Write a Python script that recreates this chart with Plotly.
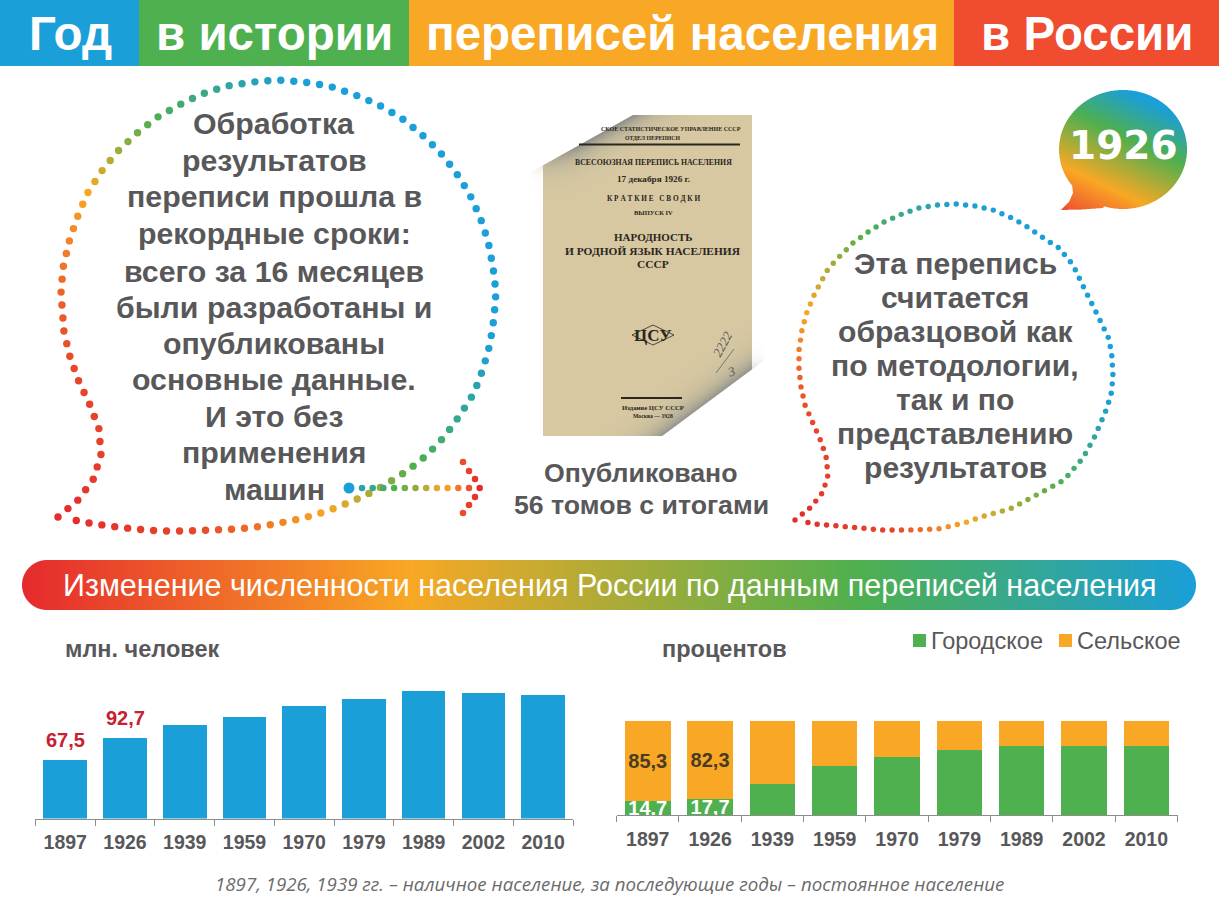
"""Инфографика: 1926 год в истории переписей населения России."""
import numpy as np
import plotly.graph_objects as go

W, H = 1219, 911

# chart data
years = ["1897", "1926", "1939", "1959", "1970", "1979", "1989", "2002", "2010"]
population = [67.5, 92.7, 108.4, 117.5, 129.9, 137.6, 147.0, 145.2, 142.9]
population_labels = ["67,5", "92,7", "", "", "", "", "", "", ""]
urban = [14.7, 17.7, 33.4, 52.0, 62.0, 69.0, 73.0, 73.0, 73.5]
rural = [85.3, 82.3, 66.6, 48.0, 38.0, 31.0, 27.0, 27.0, 26.5]
urban_labels = ["14,7", "17,7", "", "", "", "", "", "", ""]
rural_labels = ["85,3", "82,3", "", "", "", "", "", "", ""]

BLUE, GREEN, ORANGE, RED = "#1A9FD9", "#4FB04F", "#F9A825", "#EF4C30"
DARK_RED = "#E52B2B"
TEXT = "#58585A"
FONT = "Liberation Sans"

# header blocks: left, right, colour, word, word centre
header = [
    (0, 139, BLUE, "Год", 70),
    (139, 409, GREEN, "в истории", 274),
    (409, 954, ORANGE, "переписей населения", 682),
    (954, 1219, RED, "в России", 1087),
]

left_lines = [
    ("Обработка", 123), ("результатов", 160), ("переписи прошла в", 196),
    ("рекордные сроки:", 233), ("всего за 16 месяцев", 271),
    ("были разработаны и", 307), ("опубликованы", 343),
    ("основные данные.", 379), ("И это без", 416), ("применения", 452),
    ("машин", 489),
]
right_lines = [
    ("Эта перепись", 263), ("считается", 297), ("образцовой как", 331),
    ("по методологии,", 365), ("так и по", 399), ("представлению", 433),
    ("результатов", 467),
]

# outlines of the dotted speech bubbles, in page pixels
left_outline = [
    (58, 517), (78, 500), (93, 480), (101, 455), (99, 429), (90, 405),
    (79, 382), (70, 357), (64, 332), (61, 293), (63, 268), (69, 242),
    (77, 218), (87, 194), (101, 172), (117, 152), (136, 134), (156, 118),
    (179, 105), (202, 94), (227, 86), (253, 82), (278, 80), (304, 82),
    (329, 86), (353, 94), (377, 104), (400, 117), (420, 133), (439, 151),
    (455, 171), (469, 193), (480, 217), (488, 241), (493, 267), (496, 292),
    (494, 318), (490, 344), (483, 369), (474, 393), (460, 415), (445, 436),
    (427, 455), (407, 471), (385, 485), (362, 497), (338, 507), (315, 515),
    (290, 521), (264, 526), (238, 529), (212, 530), (186, 531), (160, 531),
    (135, 529), (109, 526), (83, 522), (70, 519),
]
right_outline = [
    (795, 520), (811, 507), (823, 492), (828, 475), (826, 456), (820, 439),
    (812, 421), (805, 405), (801, 387), (799, 369), (799, 350), (802, 330),
    (807, 312), (815, 293), (828, 269), (840, 256), (853, 243), (868, 232),
    (884, 222), (902, 214), (919, 208), (937, 205), (956, 204), (975, 206),
    (993, 210), (1012, 218), (1026, 226), (1042, 237), (1059, 248), (1073, 265),
    (1084, 288), (1098, 316), (1109, 339), (1112, 357), (1113, 377), (1111, 395),
    (1105, 413), (1094, 438), (1083, 458), (1064, 480), (1042, 492), (1010, 509),
    (984, 516), (964, 523), (938, 529), (908, 530), (881, 530), (861, 528),
    (838, 526), (815, 524), (801, 521),
]

bubble_stops = [(-264, DARK_RED), (-165, "#E8452B"), (-45, ORANGE), (50, GREEN), (190, BLUE), (300, BLUE)]
right_stops = [(324, DARK_RED), (395, "#E8452B"), (458, ORANGE), (555, GREEN), (650, BLUE), (760, BLUE)]
arrow_stops = [(348, BLUE), (395, GREEN), (445, ORANGE), (480, DARK_RED)]
blob_stops = [(0, RED), (40, ORANGE), (93, GREEN), (135, BLUE), (170, BLUE)]
band_stops = [(22, "#E62A2E"), (410, ORANGE), (860, GREEN), (1196, BLUE)]


def rgb(hex_color):
    return [int(hex_color[i:i + 2], 16) for i in (1, 3, 5)]


def ramp(t, stops):
    """Colour ramp as a float array, last axis is RGB."""
    pos = [s[0] for s in stops]
    cols = np.array([rgb(s[1]) for s in stops], dtype=float)
    return np.stack([np.interp(t, pos, cols[:, i]) for i in range(3)], axis=-1)


def to_hex(colors):
    return ["#%02x%02x%02x" % tuple(int(v) for v in c) for c in colors]


def dots_along(points, step):
    pts = np.array(points, dtype=float)
    length = np.r_[0, np.cumsum(np.hypot(*np.diff(pts, axis=0).T))]
    s = np.arange(0, length[-1] + 1, step)
    return np.interp(s, length, pts[:, 0]), np.interp(s, length, pts[:, 1])


def image_trace(rgb_array, alpha, left, top):
    z = np.dstack([np.clip(rgb_array, 0, 255), np.clip(alpha, 0, 1) * 255]).astype(np.uint8)
    return go.Image(z=z.tolist(), colormodel="rgba256", x0=left + 0.5, y0=top + 0.5,
                    dx=1, dy=1, xaxis="x3", yaxis="y3", hoverinfo="skip")


def gradient_band():
    left, right, top, bottom = 22, 1196, 560, 610
    xx, yy = np.meshgrid(np.arange(left, right) + 0.5, np.arange(top, bottom) + 0.5)
    r = (bottom - top) / 2
    cy = (top + bottom) / 2
    dx = np.maximum(np.maximum(left + r - xx, xx - (right - r)), 0)
    alpha = r - np.hypot(dx, yy - cy) + 0.5
    return image_trace(ramp(xx, band_stops), alpha, left, top)


def year_blob():
    left, right, top, bottom = 1056, 1190, 87, 213
    n = 3  # supersampling
    xx, yy = np.meshgrid((np.arange((right - left) * n) + 0.5) / n + left,
                         (np.arange((bottom - top) * n) + 0.5) / n + top)
    mask = ((xx - 1123) / 64) ** 2 + ((yy - 149.5) / 59.5) ** 2 <= 1
    tail = [(1072, 184), (1073, 193), (1069, 202), (1061, 210), (1082, 209.5), (1103, 208), (1112, 195)]
    inside = np.zeros_like(mask)
    for (x1, y1), (x2, y2) in zip(tail, tail[1:] + tail[:1]):
        crossing = ((y1 > yy) != (y2 > yy)) & (xx < (x2 - x1) * (yy - y1) / (y2 - y1) + x1)
        inside ^= crossing
    mask |= inside
    alpha = mask.reshape(bottom - top, n, right - left, n).mean(axis=(1, 3))
    px, py = np.meshgrid(np.arange(left, right) + 0.5, np.arange(top, bottom) + 0.5)
    t = (px - 1061) * 0.42 + (210 - py) * 0.9
    return image_trace(ramp(t, blob_stops), alpha, left, top)


def book_cover():
    left, right, top, bottom = 526, 770, 112, 440
    xx, yy = np.meshgrid(np.arange(left, right) + 0.5, np.arange(top, bottom) + 0.5)
    # folded corners: signed distance to the two diagonals
    d1 = ((yy - 172) * 102 + (xx - 530) * 57) / np.hypot(102, 57)
    d2 = ((370 - yy) * 89 + (752 - xx) * 66) / np.hypot(89, 66)
    paper = np.array([216, 201, 163], dtype=float)
    fold = np.array([112, 122, 128], dtype=float)
    # the fold is darkest away from the cover's left edge
    top_fold = 0.8 * np.clip(0.3 + (xx - 543) / 50, 0, 1) * np.exp(-np.maximum(d1, 0) / 10)
    bottom_fold = 0.72 * np.exp(-np.maximum(d2, 0) / 10)
    shade = np.clip(top_fold + bottom_fold, 0, 1)[..., None]
    colors = paper * (1 - shade) + fold * shade
    in_rect = (xx >= 543) & (xx < 752) & (yy >= 115) & (yy < 436)
    cut = np.clip(d1, 0, 1) * np.clip(d2, 0, 1)
    # faint shadow sticking out past the cover edges
    wisp = 0.35 * (np.exp(-np.maximum(d1, 0) / 7) * np.clip(1 - (543 - xx) / 14, 0, 1) * (xx < 543)
                   + np.exp(-np.maximum(d2, 0) / 7) * np.clip(1 - (xx - 752) / 14, 0, 1) * (xx >= 752))
    alpha = np.where(in_rect, cut, wisp * cut)
    return image_trace(colors, alpha, left, top)


fig = go.Figure()

# page-pixel overlay goes in first so that pictures sit under the text
fig.add_trace(gradient_band())
fig.add_trace(year_blob())
fig.add_trace(book_cover())

for outline, size, step, stops in [(left_outline, 7.4, 13, bubble_stops), (right_outline, 5.4, 9.4, right_stops)]:
    xs, ys = dots_along(outline, step)
    fig.add_trace(go.Scatter(
        x=xs, y=ys, mode="markers", xaxis="x3", yaxis="y3", hoverinfo="skip", showlegend=False,
        marker=dict(size=size, color=to_hex(ramp(0.8 * xs - 0.6 * ys, stops)), line=dict(width=0)),
    ))

# arrow from the left bubble
arrow_x, arrow_y = dots_along([(362, 488), (480, 488)], 10.7)
head_x = np.array([463, 469, 475, 475, 469, 463], dtype=float)
head_y = np.array([462, 471, 479, 497, 505, 513], dtype=float)
arrow_x, arrow_y = np.r_[arrow_x, head_x], np.r_[arrow_y, head_y]
fig.add_trace(go.Scatter(
    x=arrow_x, y=arrow_y, mode="markers", xaxis="x3", yaxis="y3", hoverinfo="skip", showlegend=False,
    marker=dict(size=6.5, color=to_hex(ramp(arrow_x + np.r_[np.zeros(len(arrow_x) - 6), 8, 5, 2, 2, 5, 8], arrow_stops)),
                line=dict(width=0)),
))
fig.add_trace(go.Scatter(
    x=[349], y=[488], mode="markers", xaxis="x3", yaxis="y3", hoverinfo="skip", showlegend=False,
    marker=dict(size=11, color=BLUE, line=dict(width=0)),
))

# bar charts
fig.add_trace(go.Bar(
    x=years, y=population, xaxis="x", yaxis="y", marker=dict(color=BLUE, line=dict(width=0)),
    name="млн. человек", showlegend=False,
))
fig.add_trace(go.Bar(
    x=years, y=urban, xaxis="x2", yaxis="y2", marker=dict(color=GREEN, line=dict(width=0)),
    text=urban_labels, textposition="inside", constraintext="none", insidetextanchor="middle",
    textfont=dict(family=FONT, size=20, color="#FFFFFF", weight="bold"),
    name="Городское", showlegend=False,
))
fig.add_trace(go.Bar(
    x=years, y=rural, xaxis="x2", yaxis="y2", marker=dict(color=ORANGE, line=dict(width=0)),
    text=rural_labels, textposition="inside", constraintext="none", insidetextanchor="middle",
    textfont=dict(family=FONT, size=20, color="#4A3B22", weight="bold"),
    name="Сельское", showlegend=False,
))

shapes = []
annotations = []

# value labels float higher over the bars than textposition="outside" puts them;
# x is the category index, a year string would be read as a number on this axis
for i, (value, label) in enumerate(zip(population, population_labels)):
    if label:
        annotations.append(dict(
            text=label, x=i, y=value, xref="x", yref="y", yshift=20, yanchor="middle",
            showarrow=False, font=dict(family=FONT, size=20, color="#C8202F", weight="bold"),
        ))


def put_text(text, x, y, size, color=TEXT, bold=True, anchor="center", family=FONT, italic=False, angle=0):
    annotations.append(dict(
        text=text, x=x, y=y, xref="x3", yref="y3", showarrow=False, xanchor=anchor, yanchor="middle",
        textangle=angle, font=dict(family=family, size=size, color=color,
                                   weight="bold" if bold else "normal",
                                   style="italic" if italic else "normal"),
    ))


def put_rect(x0, y0, x1, y1, color):
    shapes.append(dict(type="rect", xref="x3", yref="y3", x0=x0, y0=y0, x1=x1, y1=y1,
                       fillcolor=color, line=dict(width=0), layer="below"))


for x0, x1, color, word, cx in header:
    put_rect(x0, 0, x1, 66, color)
    put_text(word, cx, 33, 47.5, color="#FFFFFF")

for line, y in left_lines:
    put_text(line, 274, y, 30.3)
for line, y in right_lines:
    put_text(line, 955, y, 30.1)

put_text("1926", 1123, 145, 39, color="#FFFFFF", family="DejaVu Sans")
put_text("Опубликовано", 641, 473, 26.7)
put_text("56 томов с итогами", 641.5, 505, 26.7)
put_text("Изменение численности населения России по данным переписей населения",
         610, 585, 30.5, color="#FFFFFF", bold=False)
put_text("млн. человек", 63, 649, 23.5, anchor="left")
put_text("процентов", 660, 649, 23.5, anchor="left")
put_text("1897, 1926, 1939 гг. – наличное население, за последующие годы – постоянное население",
         609, 883, 18.7, color="#6B6B6B", bold=False, italic=True, family="Open Sans")

# hand-made legend, the swatches sit closer to the text than a plotly legend allows
put_rect(913, 634, 926, 647, GREEN)
put_text("Городское", 929, 641, 23.5, bold=False, anchor="left")
put_rect(1059, 634, 1072, 647, ORANGE)
put_text("Сельское", 1075, 641, 23.5, bold=False, anchor="left")

# book cover lettering
SERIF = "Liberation Serif"
INK = "#2B2620"
for text, x, y, size in [
    ("СКОЕ СТАТИСТИЧЕСКОЕ УПРАВЛЕНИЕ СССР", 671, 129, 6),
    ("ОТДЕЛ ПЕРЕПИСИ", 653, 138, 5.8),
    ("ВСЕСОЮЗНАЯ ПЕРЕПИСЬ НАСЕЛЕНИЯ", 653, 162, 7.8),
    ("17 декабря 1926 г.", 653, 179, 9.2),
    ("К Р А Т К И Е   С В О Д К И", 653, 198, 7.3),
    ("ВЫПУСК IV", 653, 212, 6.5),
    ("НАРОДНОСТЬ", 653, 237, 11),
    ("И РОДНОЙ ЯЗЫК НАСЕЛЕНИЯ", 653, 251, 11.4),
    ("СССР", 653, 264, 11.4),
    ("ЦСУ", 653, 335, 17),
    ("Издание ЦСУ СССР", 653, 407, 6.7),
    ("Москва — 1928", 653, 416, 5.7),
]:
    put_text(text, x, y, size, color=INK, family=SERIF)
put_text("2222", 722, 344, 13, color="#5A5A60", bold=False, italic=True, family=SERIF, angle=-62)
put_text("3", 731, 371, 13, color="#5A5A60", bold=False, italic=True, family=SERIF, angle=-20)
for x0, x1, y, width in [(579, 740, 144.5, 2.2), (621, 682, 398, 2)]:
    shapes.append(dict(type="line", xref="x3", yref="y3", x0=x0, x1=x1, y0=y, y1=y,
                       line=dict(color=INK, width=width)))
shapes.append(dict(type="line", xref="x3", yref="y3", x0=716, x1=734, y0=373, y1=349,
                   line=dict(color="#77777A", width=1)))
shapes.append(dict(type="path", xref="x3", yref="y3",
                   path="M 632 335 L 653 325 L 674 335 L 653 345 Z",
                   line=dict(color=INK, width=0.8)))

cat_axis = dict(
    type="category", categoryorder="array", categoryarray=years, range=[-0.5, 8.5],
    showgrid=False, zeroline=False, showline=True, linecolor="#8C8C8C", linewidth=1.3,
    ticks="outside", ticklen=6, tickwidth=1.2, tickcolor="#8C8C8C", tickson="boundaries",
    tickfont=dict(family=FONT, size=19.5, color=TEXT, weight="bold"), ticklabelstandoff=6,
)

fig.update_layout(
    width=W, height=H, margin=dict(l=0, r=0, t=0, b=0, autoexpand=False),
    paper_bgcolor="white", plot_bgcolor="rgba(0,0,0,0)", showlegend=False,
    barmode="stack",
    xaxis=dict(cat_axis, domain=[35.4 / W, 573 / W], anchor="y"),
    yaxis=dict(domain=[(H - 818.5) / H, (H - 660) / H], range=[0, 183], visible=False, anchor="x"),
    xaxis2=dict(cat_axis, domain=[616.6 / W, 1177.5 / W], anchor="y2"),
    yaxis2=dict(domain=[(H - 815.3) / H, (H - 720.7) / H], range=[0, 100], visible=False, anchor="x2"),
    xaxis3=dict(domain=[0, 1], range=[0, W], visible=False, anchor="y3"),
    yaxis3=dict(domain=[0, 1], range=[H, 0], visible=False, anchor="x3"),
    bargap=0.27,
    shapes=shapes,
    annotations=annotations,
)

fig.write_html("out.html", config={"displayModeBar": False}, post_script="document.body.style.margin='0';")
